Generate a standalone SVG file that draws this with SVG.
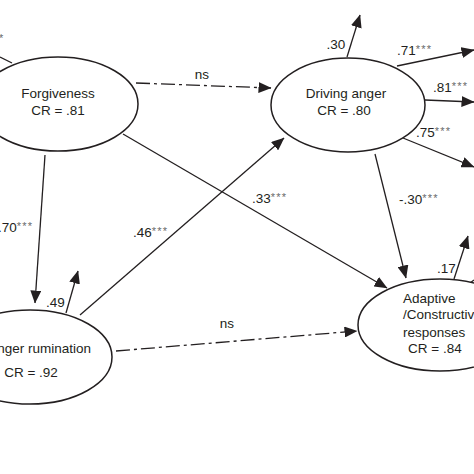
<svg xmlns="http://www.w3.org/2000/svg" width="474" height="474" viewBox="0 0 474 474">
<style>
.node ellipse{fill:#fff;stroke:#231f20;stroke-width:1.5}
text{font-family:"Liberation Sans",Arial,sans-serif;font-size:13.5px;fill:#231f20}
.ast{font-size:11px;fill:#6a6a6a;letter-spacing:1.2px}
.ln{stroke:#231f20;stroke-width:1.3;fill:none}
.dash{stroke-dasharray:14 4 3 4}
</style>
<defs>
<marker id="ah" markerUnits="userSpaceOnUse" markerWidth="13" markerHeight="11" viewBox="0 0 13 11" refX="12.5" refY="5.5" orient="auto">
<path d="M0,0 L13,5.5 L0,11 z" fill="#231f20"/>
</marker>
</defs>
<rect width="474" height="474" fill="#fff"/>
<g id="connectors">
<line class="ln dash" x1="136" y1="83" x2="271" y2="88" marker-end="url(#ah)"/>
<line class="ln" x1="45" y1="155" x2="35" y2="303" marker-end="url(#ah)"/>
<line class="ln" x1="123" y1="134" x2="387" y2="288" marker-end="url(#ah)"/>
<line class="ln" x1="80" y1="315" x2="284" y2="138" marker-end="url(#ah)"/>
<line class="ln" x1="375" y1="154" x2="406" y2="278" marker-end="url(#ah)"/>
<line class="ln dash" x1="116" y1="351" x2="357" y2="331" marker-end="url(#ah)"/>
<line class="ln" x1="347" y1="57" x2="360" y2="15" marker-end="url(#ah)"/>
<line class="ln" x1="397" y1="66" x2="474" y2="50" marker-end="url(#ah)"/>
<line class="ln" x1="425" y1="100" x2="474" y2="102" marker-end="url(#ah)"/>
<line class="ln" x1="403" y1="138" x2="474" y2="167" marker-end="url(#ah)"/>
<line class="ln" x1="66" y1="313" x2="78" y2="271" marker-end="url(#ah)"/>
<line class="ln" x1="454" y1="279" x2="468" y2="236" marker-end="url(#ah)"/>
<line class="ln" x1="0" y1="57" x2="12" y2="63"/>
<path d="M-6,128 L4,134 L-6,139 z" fill="#231f20"/>
<line class="ln" x1="470" y1="283" x2="474" y2="280"/>
</g>
<g id="forgiveness" class="node">
<ellipse cx="58" cy="104" rx="80" ry="47"/>
<text x="58" y="98" text-anchor="middle">Forgiveness</text>
<text x="58" y="115" text-anchor="middle">CR = .81</text>
</g>
<g id="driving-anger" class="node">
<ellipse cx="348" cy="105" rx="77" ry="47"/>
<text x="346" y="98" text-anchor="middle">Driving anger</text>
<text x="344" y="115" text-anchor="middle">CR = .80</text>
</g>
<g id="anger-rumination" class="node">
<ellipse cx="30" cy="357" rx="82" ry="47"/>
<text x="91" y="353" text-anchor="end">Anger rumination</text>
<text x="31" y="377" text-anchor="middle">CR = .92</text>
</g>
<g id="adaptive" class="node">
<ellipse cx="440" cy="325" rx="82" ry="46"/>
<text x="403" y="303">Adaptive</text>
<text x="403" y="319">/Constructive</text>
<text x="403" y="337">responses</text>
<text x="408" y="353">CR = .84</text>
</g>
<g id="labels">
<text x="-1" y="42" class="ast">*</text>
<text x="202" y="79" text-anchor="middle">ns</text>
<text x="227" y="328" text-anchor="middle">ns</text>
<text x="336" y="49" text-anchor="middle">.30</text>
<text x="397" y="55">.71<tspan class="ast" dy="-2">***</tspan></text>
<text x="433" y="92">.81<tspan class="ast" dy="-2">***</tspan></text>
<text x="416" y="137">.75<tspan class="ast" dy="-2">***</tspan></text>
<text x="399" y="204">-.30<tspan class="ast" dy="-2">***</tspan></text>
<text x="252" y="203">.33<tspan class="ast" dy="-2">***</tspan></text>
<text x="133" y="237">.46<tspan class="ast" dy="-2">***</tspan></text>
<text x="-2" y="232">.70<tspan class="ast" dy="-2">***</tspan></text>
<text x="46" y="307">.49</text>
<text x="437" y="273">.17</text>
</g>
</svg>
